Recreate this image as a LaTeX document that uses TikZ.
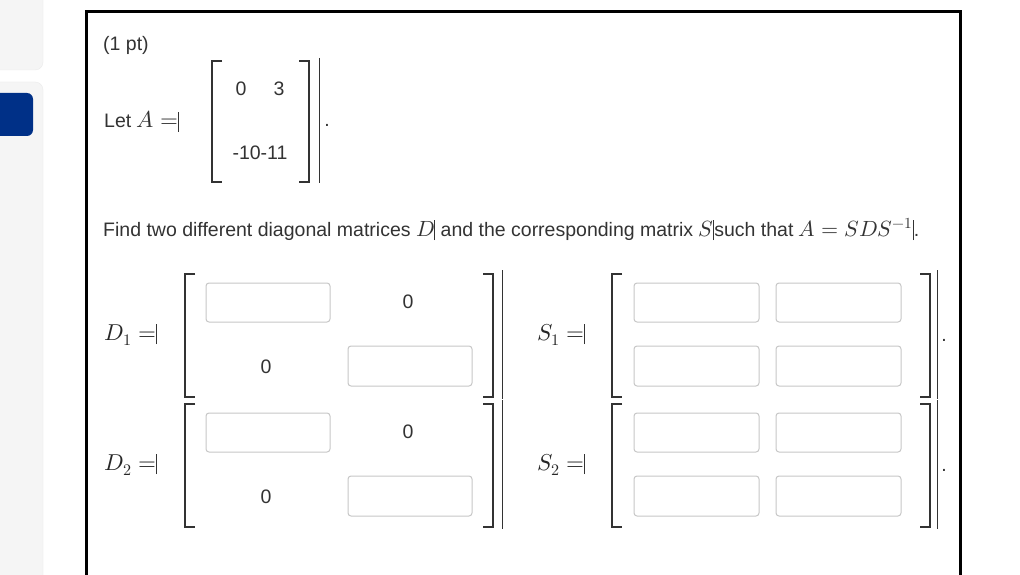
\documentclass[tikz,border=0pt]{standalone}
\usepackage{fontspec}
\setmainfont{Liberation Sans}
\usepackage{unicode-math}
\setmathfont{Latin Modern Math}
\newcommand{\vbr}{\textcolor{black!80}{\rule[-4pt]{0.9pt}{20pt}}}
\begin{document}
\begin{tikzpicture}[x=1pt,y=-1pt,
  txt/.style={font=\fontsize{19.5}{22}\selectfont, text=black!80, inner sep=0pt},
  mth/.style={font=\fontsize{23}{26}\selectfont, text=black!85, inner sep=0pt},
  inbox/.style={draw=black!22, rounded corners=3pt, line width=1pt, fill=white},
  brk/.style={draw=black!80, line width=2pt},
  bar/.style={draw=black!80, line width=1pt}]
\useasboundingbox (0,0) rectangle (1020,575);
\fill[white] (0,0) rectangle (1020,575);
% sidebar
\filldraw[fill=black!4, draw=black!8, rounded corners=8pt] (-10,-10) rectangle (43,70);
\filldraw[fill=black!4, draw=black!8, rounded corners=8pt] (-10,82) rectangle (43,590);
\fill[fill={rgb,255:red,0;green,48;blue,135}, rounded corners=6pt] (-10,93) rectangle (33,136);
% main frame
\draw[line width=3pt] (85,12) -- (962,12) (86.5,12) -- (86.5,580) (960.5,12) -- (960.5,580);
\node[txt, anchor=west] (pt) at (103,45) {(1 pt)};
\node[txt, anchor=base west] (let) at (104,128) {Let {\fontsize{23}{26}\selectfont$A=$}\vbr};
% A matrix
\draw[brk] (222,61) -- (212,61) -- (212,182) -- (222,182);
\draw[brk] (299,61) -- (309,61) -- (309,182) -- (299,182);
\draw[bar] (319,58) -- (319,183);
\node[txt] (a11) at (241,89) {0};
\node[txt] (a12) at (279,89) {3};
\node[txt] (a2) at (260,153) {-10-11};
\node[txt] (dot0) at (327,125) {.};
\node[txt, anchor=base west] (find) at (103,236) {Find two different diagonal matrices {\fontsize{22}{24}\selectfont$D$}\vbr{} and the corresponding matrix {\fontsize{22}{24}\selectfont$S$}\vbr such that {\fontsize{22}{24}\selectfont$A=SDS^{-1}$}\vbr.};
\foreach \i/\oy in {1/0,2/130}{
  \node[mth, anchor=base west] (D\i) at (104,\oy+340) {$D_{\i}=$\vbr};
  \draw[brk] (195,\oy+274) -- (185,\oy+274) -- (185,\oy+397) -- (195,\oy+397);
  \draw[brk] (483,\oy+274) -- (493,\oy+274) -- (493,\oy+397) -- (483,\oy+397);
  \draw[bar] (502,\oy+270) -- (502,\oy+399);
  \draw[inbox] (206,\oy+283) rectangle (330,\oy+322);
  \draw[inbox] (348,\oy+346) rectangle (472,\oy+386);
  \node[txt] (z1\i) at (408,\oy+302) {0};
  \node[txt] (z2\i) at (266,\oy+367) {0};
  \node[mth, anchor=base west] (S\i) at (537,\oy+340) {$S_{\i}=$\vbr};
  \draw[brk] (622,\oy+274) -- (612,\oy+274) -- (612,\oy+397) -- (622,\oy+397);
  \draw[brk] (920,\oy+274) -- (930,\oy+274) -- (930,\oy+397) -- (920,\oy+397);
  \draw[bar] (937,\oy+270) -- (937,\oy+399);
  \draw[inbox] (634,\oy+283) rectangle (759,\oy+322);
  \draw[inbox] (776,\oy+283) rectangle (901,\oy+322);
  \draw[inbox] (634,\oy+346) rectangle (759,\oy+386);
  \draw[inbox] (776,\oy+346) rectangle (901,\oy+386);
  \node[txt] (dt\i) at (944,\oy+340) {.};
}
\end{tikzpicture}
\end{document}
